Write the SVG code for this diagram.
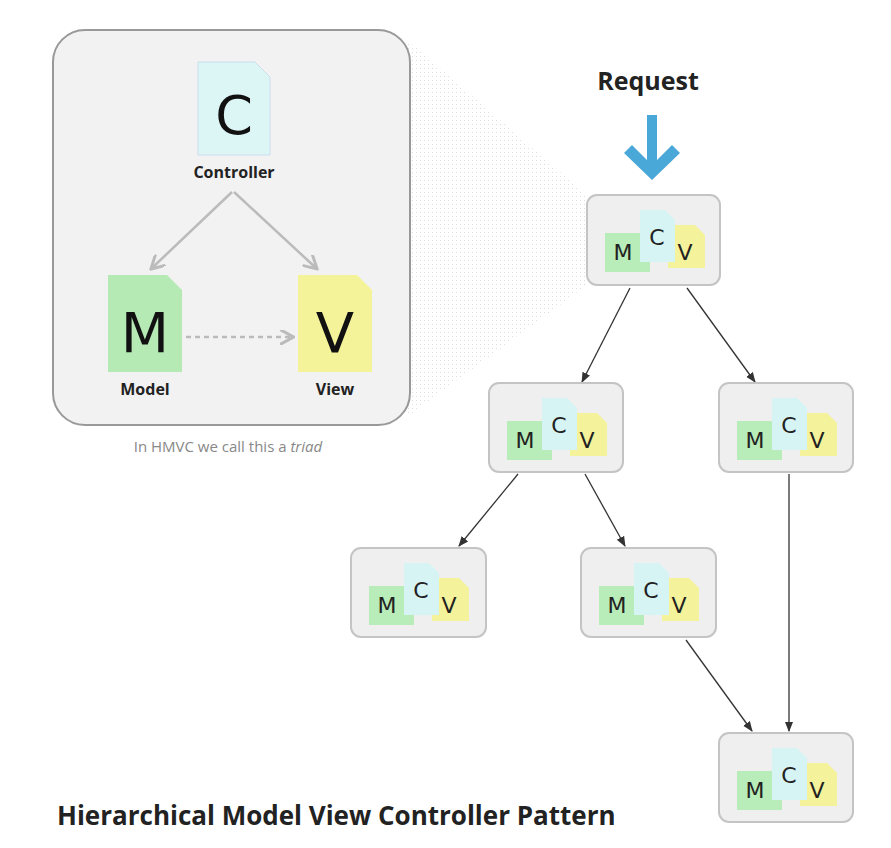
<svg xmlns="http://www.w3.org/2000/svg" width="891" height="848" viewBox="0 0 891 848">
<style>
.node{fill:#efefef;stroke:#c4c4c4;stroke-width:2}
.lbl{font-family:"Open Sans","DejaVu Sans",sans-serif;font-weight:bold;fill:#222}
.big{font-family:"DejaVu Sans","Liberation Sans",sans-serif;fill:#111;text-anchor:middle}
.sm{font-family:"DejaVu Sans","Liberation Sans",sans-serif;fill:#222;text-anchor:middle;font-size:22px}
.edge{stroke:#333;stroke-width:1.3;fill:none;marker-end:url(#ah)}
.tri{stroke:#bbb;stroke-width:2.5;fill:none;marker-end:url(#ag)}
</style>
<defs>
<marker id="ah" viewBox="0 0 10 10" refX="9" refY="5" markerWidth="8" markerHeight="8" orient="auto"><path d="M0,1 L10,5 L0,9 z" fill="#333"/></marker>
<marker id="ag" viewBox="0 0 10 10" refX="8" refY="5" markerWidth="6" markerHeight="6" orient="auto"><path d="M0,0 L9,5 L0,10" fill="none" stroke="#bbb" stroke-width="2"/></marker>
<pattern id="dots" width="4" height="4" patternUnits="userSpaceOnUse"><rect width="1" height="1" fill="#ddd"/></pattern>
<symbol id="mcv" viewBox="0 0 135 90" width="135" height="90" overflow="visible">
<path d="M18,38 H53 L63,47 V77 H18 Z" fill="#b8ecb8"/>
<path d="M81,30 H108 L118,40 V73 H81 Z" fill="#f4f29a"/>
<path d="M53,15 H78 L88,25 V67 H53 Z" fill="#d6f4f4"/>
</symbol>
</defs>
<rect width="891" height="848" fill="#fff"/>
<polygon points="405,38 590,198 590,283 405,418" fill="url(#dots)"/>
<g id="triad">
<rect x="53" y="30" width="357" height="395" rx="32" fill="#f2f2f2" stroke="#999" stroke-width="2"/>
<path d="M198,62 H255 L270,77 V155 H198 Z" fill="#dcf5f5" stroke="#cde" stroke-width="1"/>
<text x="234" y="134" class="big" font-size="54">C</text>
<text x="234" y="178" class="lbl" font-size="16" text-anchor="middle">Controller</text>
<path d="M108,275 H167 L182,290 V372 H108 Z" fill="#b5eab5"/>
<text x="145" y="352" class="big" font-size="56">M</text>
<text x="145" y="395" class="lbl" font-size="16" text-anchor="middle">Model</text>
<path d="M298,275 H357 L372,290 V372 H298 Z" fill="#f5f39a"/>
<text x="335" y="352" class="big" font-size="56">V</text>
<text x="335" y="395" class="lbl" font-size="16" text-anchor="middle">View</text>
</g>
<text x="228" y="452" font-family="Open Sans,DejaVu Sans,sans-serif" font-size="15" fill="#888" text-anchor="middle">In HMVC we call this a <tspan font-style="italic">triad</tspan></text>
<g id="request">
<text x="648" y="90" class="lbl" font-size="25" text-anchor="middle">Request</text>
<path d="M647,115 H657 V160 L672,145 L680,153 L652,180 L624,153 L632,145 L647,160 Z" fill="#4aa8d8"/>
</g>
<g id="connectors">
<line x1="232" y1="192" x2="152" y2="268" class="tri"/>
<line x1="234" y1="192" x2="316" y2="268" class="tri"/>
<line x1="186" y1="337" x2="292" y2="337" class="tri" stroke-dasharray="5,4"/>
<line x1="630" y1="288" x2="582" y2="382" class="edge"/>
<line x1="687" y1="288" x2="755" y2="382" class="edge"/>
<line x1="518" y1="474" x2="459" y2="546" class="edge"/>
<line x1="585" y1="474" x2="625" y2="546" class="edge"/>
<line x1="686" y1="640" x2="752" y2="731" class="edge"/>
<line x1="789" y1="474" x2="789" y2="731" class="edge"/>
</g>
<g id="n1" transform="translate(587,195)"><rect class="node" width="133" height="90" rx="10"/><use href="#mcv"/><text x="36" y="65" class="sm">M</text><text x="70" y="50" class="sm">C</text><text x="98" y="65" class="sm">V</text></g>
<g id="n2" transform="translate(489,383)"><rect class="node" width="134" height="89" rx="10"/><use href="#mcv"/><text x="36" y="65" class="sm">M</text><text x="70" y="50" class="sm">C</text><text x="98" y="65" class="sm">V</text></g>
<g id="n3" transform="translate(719,383)"><rect class="node" width="134" height="89" rx="10"/><use href="#mcv"/><text x="36" y="65" class="sm">M</text><text x="70" y="50" class="sm">C</text><text x="98" y="65" class="sm">V</text></g>
<g id="n4" transform="translate(351,548)"><rect class="node" width="135" height="89" rx="10"/><use href="#mcv"/><text x="36" y="65" class="sm">M</text><text x="70" y="50" class="sm">C</text><text x="98" y="65" class="sm">V</text></g>
<g id="n5" transform="translate(581,548)"><rect class="node" width="135" height="89" rx="10"/><use href="#mcv"/><text x="36" y="65" class="sm">M</text><text x="70" y="50" class="sm">C</text><text x="98" y="65" class="sm">V</text></g>
<g id="n6" transform="translate(719,733)"><rect class="node" width="134" height="89" rx="10"/><use href="#mcv"/><text x="36" y="65" class="sm">M</text><text x="70" y="50" class="sm">C</text><text x="98" y="65" class="sm">V</text></g>
<text x="57" y="825" class="lbl" font-size="26">Hierarchical Model View Controller Pattern</text>
</svg>
